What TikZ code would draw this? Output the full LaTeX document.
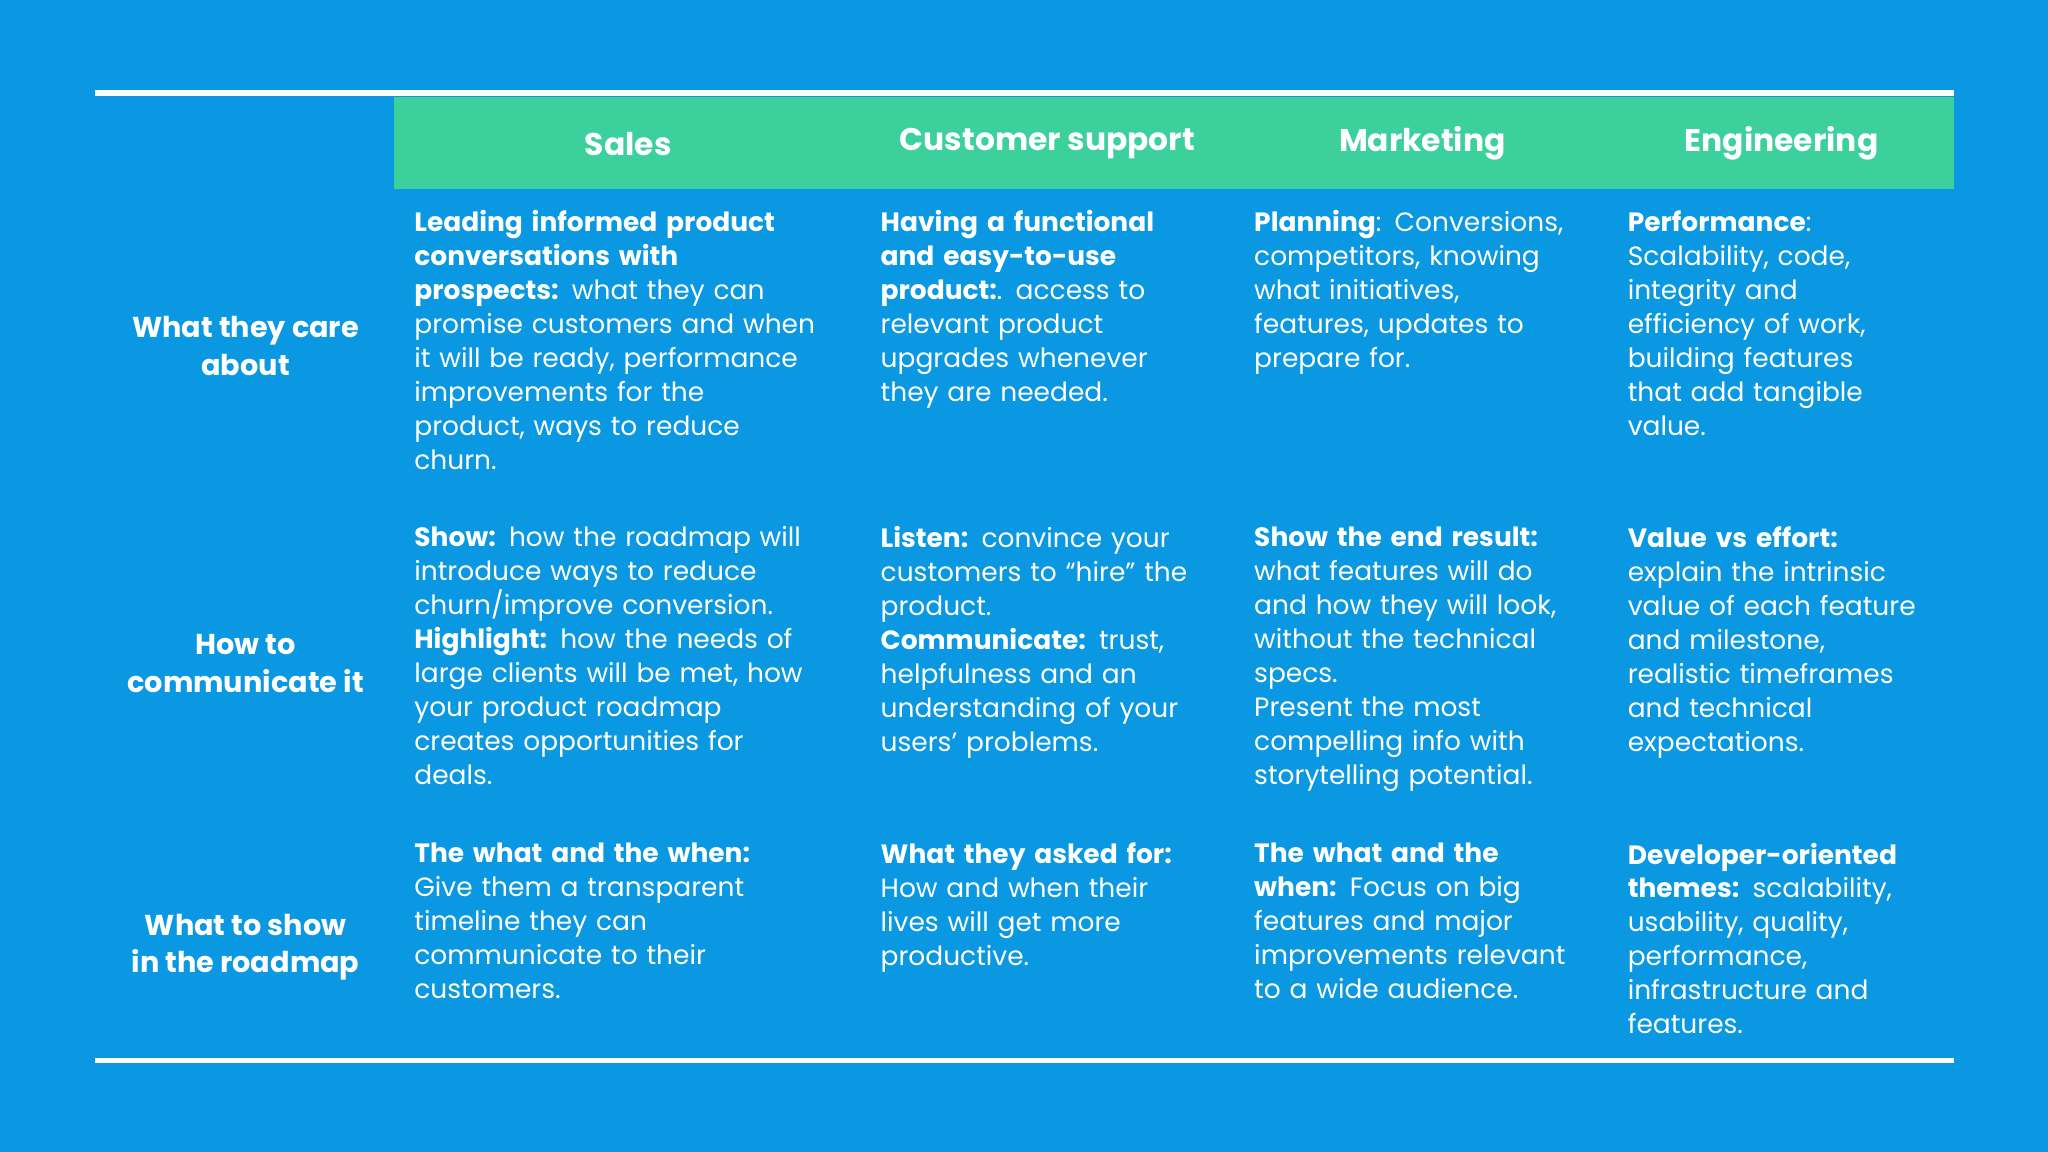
\documentclass[tikz,border=0pt]{standalone}
\usepackage{fontspec}
\setmainfont{Poppins}
\definecolor{bg}{HTML}{0A98E2}
\definecolor{hdr}{HTML}{3CD09C}
\begin{document}
\begin{tikzpicture}[x=0.75pt,y=-0.75pt,
  cell/.style={anchor=north west,inner sep=0pt,text=white,align=left,
    font=\fontsize{15.2}{19.5}\selectfont},
  rowlab/.style={text=white,align=center,font=\bfseries\fontsize{16.5}{21.5}\selectfont},
  hd/.style={text=white,font=\bfseries\fontsize{18}{22}\selectfont}]
\fill[bg] (0,0) rectangle (1568,882);
\useasboundingbox (0,0) rectangle (1568,882);
\fill[hdr] (302,74) rectangle (1496,145);
\draw[white,line width=3.5pt] (73,71) -- (1496,71);
\draw[white,line width=2.5pt] (73,812) -- (1496,812);
\node[hd] (h1) at (481,110) {Sales};
\node[hd] (h2) at (802,110) {Customer support};
\node[hd] (h3) at (1089,110) {Marketing};
\node[hd] (h4) at (1364,110) {Engineering};
\node[rowlab] (r1) at (188,265) {What they care\\about};
\node[rowlab] (r2) at (188,508) {How to\\communicate it};
\node[rowlab] (r3) at (188,725) {What to show\\in the roadmap};
% row 1
\node[cell,text width=250pt] (a1) at (317,161) {\textbf{Leading informed product}\\\textbf{conversations with}\\\textbf{prospects:} what they can\\promise customers and when\\it will be ready, performance\\improvements for the\\product, ways to reduce\\churn.};
\node[cell,text width=200pt] (b1) at (674,161) {\textbf{Having a functional}\\\textbf{and easy-to-use}\\\textbf{product:}. access to\\relevant product\\upgrades whenever\\they are needed.};
\node[cell,text width=200pt] (c1) at (960,161) {\textbf{Planning}: Conversions,\\competitors, knowing\\what initiatives,\\features, updates to\\prepare for.};
\node[cell,text width=200pt] (d1) at (1246,161) {\textbf{Performance}:\\Scalability, code,\\integrity and\\efficiency of work,\\building features\\that add tangible\\value.};
% row 2
\node[cell,text width=250pt] (a2) at (317,403) {\textbf{Show:} how the roadmap will\\introduce ways to reduce\\churn/improve conversion.\\\textbf{Highlight:} how the needs of\\large clients will be met, how\\your product roadmap\\creates opportunities for\\deals.};
\node[cell,text width=200pt] (b2) at (674,403) {\textbf{Listen:} convince your\\customers to “hire” the\\product.\\\textbf{Communicate:} trust,\\helpfulness and an\\understanding of your\\users’ problems.};
\node[cell,text width=200pt] (c2) at (960,403) {\textbf{Show the end result:}\\what features will do\\and how they will look,\\without the technical\\specs.\\Present the most\\compelling info with\\storytelling potential.};
\node[cell,text width=200pt] (d2) at (1246,403) {\textbf{Value vs effort:}\\explain the intrinsic\\value of each feature\\and milestone,\\realistic timeframes\\and technical\\expectations.};
% row 3
\node[cell,text width=250pt] (a3) at (317,645) {\textbf{The what and the when:}\\Give them a transparent\\timeline they can\\communicate to their\\customers.};
\node[cell,text width=200pt] (b3) at (674,645) {\textbf{What they asked for:}\\How and when their\\lives will get more\\productive.};
\node[cell,text width=200pt] (c3) at (960,645) {\textbf{The what and the}\\\textbf{when:} Focus on big\\features and major\\improvements relevant\\to a wide audience.};
\node[cell,text width=200pt] (d3) at (1246,645) {\textbf{Developer-oriented}\\\textbf{themes:} scalability,\\usability, quality,\\performance,\\infrastructure and\\features.};
\end{tikzpicture}
\end{document}
